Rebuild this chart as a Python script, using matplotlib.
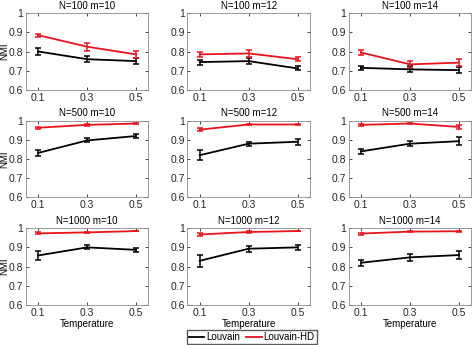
import matplotlib
matplotlib.use("Agg")
import matplotlib.pyplot as plt
from matplotlib.lines import Line2D
import numpy as np

plt.rcParams['font.family'] = ['Liberation Sans', 'DejaVu Sans']

temps = [0.1, 0.3, 0.5]
Ns = [100, 500, 1000]
ms = [10, 12, 14]

# Louvain mean / err, rows = N, cols = m
louvain = [
    [[0.800, 0.760, 0.750], [0.745, 0.750, 0.712], [0.715, 0.707, 0.703]],
    [[0.832, 0.897, 0.920], [0.820, 0.880, 0.890], [0.840, 0.880, 0.893]],
    [[0.858, 0.900, 0.887], [0.830, 0.893, 0.900], [0.820, 0.848, 0.860]],
]
louvain_err = [
    [[0.020, 0.015, 0.015], [0.013, 0.015, 0.010], [0.010, 0.015, 0.015]],
    [[0.015, 0.010, 0.008], [0.025, 0.010, 0.015], [0.013, 0.013, 0.020]],
    [[0.025, 0.010, 0.010], [0.030, 0.015, 0.012], [0.015, 0.020, 0.022]],
]
hd = [
    [[0.885, 0.825, 0.785], [0.785, 0.790, 0.760], [0.795, 0.733, 0.742]],
    [[0.963, 0.978, 0.985], [0.953, 0.980, 0.980], [0.978, 0.985, 0.967]],
    [[0.973, 0.978, 0.985], [0.967, 0.980, 0.985], [0.972, 0.982, 0.984]],
]
hd_err = [
    [[0.008, 0.020, 0.020], [0.015, 0.017, 0.010], [0.015, 0.017, 0.020]],
    [[0.006, 0.006, 0.003], [0.008, 0.003, 0.003], [0.006, 0.005, 0.008]],
    [[0.005, 0.004, 0.002], [0.008, 0.004, 0.002], [0.005, 0.004, 0.003]],
]

black = 'black'
red = '#e8141c'

fig, axes = plt.subplots(3, 3, figsize=(4.74, 3.45), dpi=100)
fig.subplots_adjust(left=0.055, right=0.994, top=0.962, bottom=0.116,
                    wspace=0.32, hspace=0.40)

for i in range(3):
    for j in range(3):
        ax = axes[i, j]
        ax.errorbar(temps, louvain[i][j], yerr=louvain_err[i][j], color=black,
                    lw=1.3, capsize=2, elinewidth=1.1, capthick=1.1)
        ax.errorbar(temps, hd[i][j], yerr=hd_err[i][j], color=red,
                    lw=1.3, capsize=2, elinewidth=1.1, capthick=1.1)
        ax.set_xlim(0.05, 0.55)
        ax.set_ylim(0.6, 1.0)
        ax.set_xticks(temps)
        ax.set_xticklabels(['0.1', '0.3', '0.5'])
        ax.set_yticks([0.6, 0.7, 0.8, 0.9, 1.0])
        ax.set_yticklabels(['0.6', '0.7', '0.8', '0.9', '1'])
        ax.tick_params(direction='in', length=2, labelsize=7.5, colors='#262626',
                       top=True, right=True, width=0.6, pad=2)
        for s in ax.spines.values():
            s.set_color('#8a8a8a')
            s.set_linewidth(0.6)
        ax.set_title(f'N={Ns[i]} m={ms[j]}', fontsize=7, pad=3)
        if j == 0:
            ax.set_ylabel('NMI', fontsize=7, labelpad=0)
        if i == 2:
            ax.set_xlabel('Temperature', fontsize=7, labelpad=1)

handles = [Line2D([], [], color=black, lw=1.3), Line2D([], [], color=red, lw=1.3)]
fig.legend(handles, ['Louvain', 'Louvain-HD'], loc='lower center', ncol=2,
           bbox_to_anchor=(0.531, 0.003), fontsize=7, frameon=True, fancybox=False,
           edgecolor='#333333', handlelength=1.6, handletextpad=0.2, columnspacing=0.6,
           borderpad=0.2, borderaxespad=0.0)

fig.savefig('out.png', dpi=100)
